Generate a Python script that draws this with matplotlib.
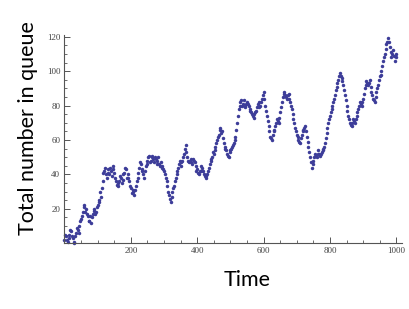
import matplotlib
matplotlib.use("Agg")
import matplotlib.pyplot as plt

# queue length read every 5 time units, t = 0..1000
times = list(range(0, 1001, 5))
queue = [
    2, 4, 1, 5, 7, 3, 0, 6, 8, 10, 14, 18, 21, 20, 16, 13, 12, 17, 20, 18,
    22, 24, 27, 36, 42, 40, 43, 40, 42, 45, 41, 36, 33, 36, 38, 37, 41, 43, 40, 36,
    32, 30, 28, 33, 38, 44, 46, 42, 38, 45, 48, 51, 48, 50, 47, 49, 48, 46, 47, 44,
    42, 38, 33, 28, 24, 30, 33, 38, 42, 46, 45, 48, 52, 57, 50, 47, 49, 46, 48, 45,
    43, 40, 42, 44, 40, 38, 40, 44, 48, 50, 52, 56, 60, 63, 67, 65, 58, 55, 52, 50,
    54, 56, 58, 62, 70, 78, 82, 80, 83, 79, 82, 80, 77, 75, 73, 76, 79, 82, 80, 84,
    88, 80, 74, 68, 62, 60, 65, 68, 72, 70, 76, 82, 88, 86, 84, 87, 82, 78, 72, 67,
    63, 60, 58, 63, 66, 68, 62, 56, 50, 44, 48, 52, 50, 54, 51, 53, 55, 58, 64, 70,
    74, 78, 82, 86, 91, 95, 99, 96, 92, 86, 80, 74, 70, 68, 72, 70, 74, 78, 82, 80,
    84, 90, 94, 92, 95, 88, 84, 82, 88, 92, 97, 100, 106, 110, 116, 119, 114, 108, 112, 106,
    110,
]
# queue length read at the in-between times t = 2.5, 7.5, ..., 997.5
times_mid = [2.5 + 5 * i for i in range(200)]
queue_mid = [
    5, 2, 3, 8, 4, 1, 4, 9, 6, 13, 16, 22, 18, 17, 13, 16, 15, 19, 17, 21,
    25, 30, 32, 41, 44, 38, 41, 44, 39, 43, 38, 34, 35, 39, 35, 40, 44, 38, 38, 33,
    29, 31, 31, 36, 41, 47, 43, 40, 42, 46, 50, 47, 51, 49, 50, 46, 50, 45, 45, 43,
    40, 36, 30, 26, 27, 32, 36, 40, 44, 48, 47, 50, 55, 53, 48, 48, 47, 49, 47, 42,
    41, 42, 45, 42, 39, 39, 42, 46, 49, 53, 54, 58, 62, 66, 64, 61, 56, 54, 51, 53,
    55, 57, 60, 66, 74, 80, 83, 81, 80, 81, 81, 78, 76, 74, 75, 77, 81, 79, 82, 86,
    84, 77, 71, 65, 61, 63, 66, 70, 71, 73, 79, 85, 87, 85, 86, 84, 80, 75, 70, 65,
    62, 59, 61, 65, 67, 65, 59, 53, 47, 46, 50, 51, 52, 52, 52, 54, 56, 61, 67, 72,
    76, 80, 84, 89, 93, 97, 97, 94, 89, 83, 77, 72, 69, 70, 71, 72, 76, 80, 81, 82,
    87, 92, 93, 93, 91, 86, 83, 85, 90, 95, 98, 103, 108, 113, 117, 117, 111, 110, 109, 108,
]
x_major = [200, 400, 600, 800, 1000]
y_major = [20, 40, 60, 80, 100, 120]

fig = plt.figure(figsize=(4.10, 3.09), dpi=100)
W, H = 410, 309
x0, x1 = 64.5, 402.0
y0, y1 = 243.3, 35.0
ax = fig.add_axes([x0 / W, (H - y0) / H, (x1 - x0) / W, (y0 - y1) / H])
ax.set_xlim(0, 1017)
ax.set_ylim(0, 121)

for tt, qq in [(times, queue), (times_mid, queue_mid)]:
    ax.plot(tt, qq, linestyle="none", marker="o", markersize=2.5,
            color="#3d3d99", markeredgewidth=0, clip_on=False)

for s in ["top", "right"]:
    ax.spines[s].set_visible(False)
for s in ["left", "bottom"]:
    ax.spines[s].set_color("#555555")
    ax.spines[s].set_linewidth(0.8)

ax.set_xticks(x_major)
ax.set_xticks(list(range(50, 1001, 50)), minor=True)
ax.set_yticks(y_major)
ax.set_yticks(list(range(5, 121, 5)), minor=True)
ax.tick_params(which="major", direction="in", length=4, width=0.7, color="#555555",
               labelsize=6.5, labelcolor="#444444", pad=3)
ax.tick_params(which="minor", direction="in", length=2, width=0.6, color="#555555")
for lab in ax.get_xticklabels() + ax.get_yticklabels():
    lab.set_fontfamily("Liberation Serif")

fig.text(28 / W, 1 - 128 / H, "Total number in queue", rotation=90,
         ha="center", va="center", fontsize=15.5, family="Lato", color="black")
fig.text(247 / W, 1 - 280 / H, "Time", ha="center", va="center",
         fontsize=15.5, family="Lato", color="black")

fig.savefig("out.png", dpi=100)
